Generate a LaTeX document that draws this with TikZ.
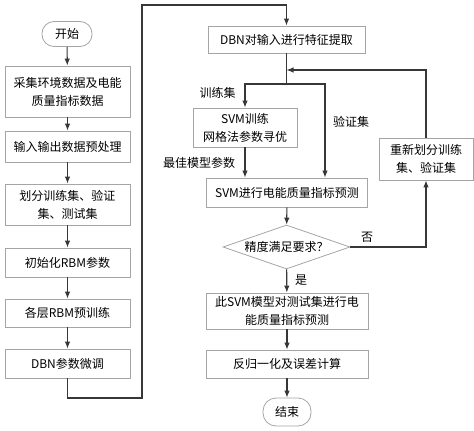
\documentclass[tikz,border=0pt]{standalone}
\usepackage{fontspec}
\setmainfont{Noto Sans CJK SC}
\usetikzlibrary{shapes.geometric,arrows.meta}
\definecolor{boxline}{RGB}{165,165,165}
\definecolor{arrline}{RGB}{55,55,55}
\begin{document}
\begin{tikzpicture}[x=1pt,y=-1pt,font=\fontsize{12}{18}\selectfont,
                    box/.style={draw=boxline,line width=0.8pt,inner sep=0pt,align=center},
                    term/.style={box,rounded corners=12pt},
                    flow/.style={draw=arrline,line width=1.1pt,-{Latex[length=7pt,width=5.5pt]}}]
                    \useasboundingbox (0,0) rectangle (474,431);
                    % left column
                    \node[term,minimum width=50,minimum height=25] (start) at (67,34){开始};
                    \node[box,minimum width=125,minimum height=51] (c1) at (67.5,91.5){采集环境数据及电能\\质量指标数据};
                    \node[box,minimum width=125,minimum height=31] (c2) at (67.5,146.5){输入输出数据预处理};
                    \node[box,minimum width=125,minimum height=41] (c3) at (67.5,204.5){划分训练集、验证\\集、测试集};
                    \node[box,minimum width=125,minimum height=29] (c4) at (67.5,262.5){初始化RBM参数};
                    \node[box,minimum width=125,minimum height=28] (c5) at (67.5,313){各层RBM预训练};
                    \node[box,minimum width=125,minimum height=29] (c6) at (67.5,363.5){DBN参数微调};
                    % right column
                    \node[box,minimum width=157,minimum height=27] (f) at (286.5,39.5){DBN对输入进行特征提取};
                    \node[box,minimum width=104,minimum height=39] (t) at (245,127.5){SVM训练\\网格法参数寻优};
                    \node[box,minimum width=161,minimum height=29] (p) at (287,192.5){SVM进行电能质量指标预测};
                    \node[box,minimum width=94,minimum height=42] (r) at (426,159){重新划分训练\\集、验证集};
                    \node[box,diamond,aspect=2.9,minimum width=127,minimum height=44] (d) at (286.5,247){精度满足要求？};
                    \node[box,minimum width=162,minimum height=36] (m) at (287,311){此SVM模型对测试集进行电\\能质量指标预测};
                    \node[box,minimum width=162,minimum height=28] (e) at (287,364){反归一化及误差计算};
                    \node[term,minimum width=48,minimum height=28,rounded corners=13pt] (stop) at (287,412){结束};
                    % labels
                    \node (lt) at (217.5,93){训练集};
                    \node (lv) at (351,122){验证集};
                    \node (lb) at (199,163){最佳模型参数};
                    \node (ln) at (367,237){否};
                    \node (ly) at (301,280){是};
                    % bends
                    \coordinate (k1) at (142,398);
                    \coordinate (k2) at (142,5);
                    \coordinate (j) at (286.5,70);
                    \coordinate (jb) at (286.5,84);
                    \coordinate (jr) at (325,84);

                    \draw[flow] (start) -- (c1);
                    \draw[flow] (c1) -- (c2);
                    \draw[flow] (c2) -- (c3);
                    \draw[flow] (c3) -- (c4);
                    \draw[flow] (c4) -- (c5);
                    \draw[flow] (c5) -- (c6);
                    \draw[flow] (c6.south) |- (k1) -- (k2) -| (f.north);
                    \draw[flow,-] (f.south) -- (jb);
                    \draw[flow] (jb) -| (t.north);
                    \draw[flow] (jb) -- (jr) -- (jr |- p.north);
                    \draw[flow] (t.south) -- (t.south |- p.north);
                    \draw[flow] (p) -- (d);
                    \draw[flow] (d.east) -| (r.south);
                    \draw[flow] (r.north) |- (j);
                    \draw[flow] (d) -- (m);
                    \draw[flow] (m) -- (e);
                    \draw[flow] (e) -- (stop);
                \end{tikzpicture}
\end{document}
